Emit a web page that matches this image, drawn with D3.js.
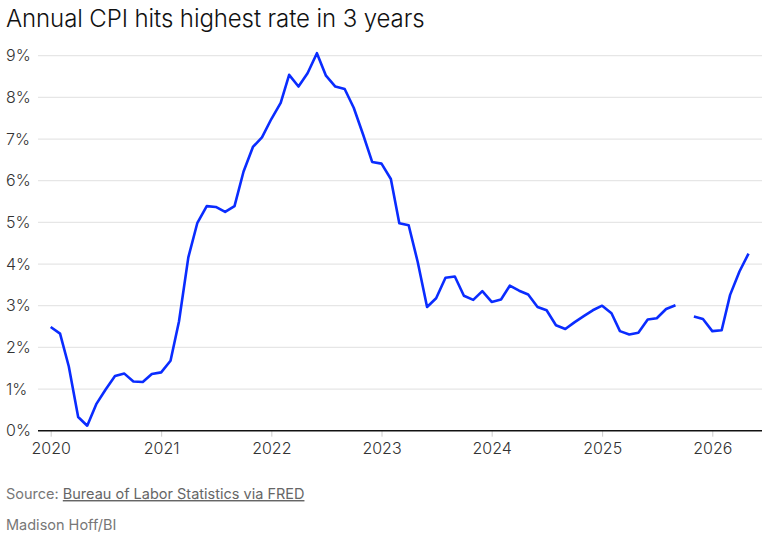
<!DOCTYPE html>
<html>
<head>
<meta charset="utf-8">
<script src="https://cdn.jsdelivr.net/npm/d3@7"></script>
<style>
  html, body { margin: 0; padding: 0; background: #fff; }
  svg { display: block; }
</style>
</head>
<body>
<svg id="chart" width="768" height="541"></svg>
<script>
const startYear = 2020;
const cpiValues = [
  2.49, 2.33, 1.54, 0.33, 0.12, 0.65, 0.99, 1.31, 1.37, 1.18, 1.17, 1.36,
  1.40, 1.68, 2.62, 4.16, 4.99, 5.39, 5.37, 5.25, 5.39, 6.22, 6.81, 7.04,
  7.48, 7.87, 8.54, 8.26, 8.58, 9.06, 8.52, 8.26, 8.20, 7.75, 7.11, 6.45,
  6.41, 6.04, 4.98, 4.93, 4.05, 2.97, 3.18, 3.67, 3.70, 3.24, 3.14, 3.35,
  3.09, 3.15, 3.48, 3.36, 3.27, 2.97, 2.89, 2.53, 2.44, 2.60, 2.75, 2.89,
  3.00, 2.82, 2.39, 2.31, 2.35, 2.67, 2.70, 2.92, 3.01, null, 2.74, 2.68,
  2.39, 2.41, 3.26, 3.82, 4.25
];
const yTicks = [0, 1, 2, 3, 4, 5, 6, 7, 8, 9];
const yearTicks = [2020, 2021, 2022, 2023, 2024, 2025, 2026];
const titleText = "Annual CPI hits highest rate in 3 years";
const sourceLabel = "Source: ";
const sourceLink = "Bureau of Labor Statistics via FRED";
const creditText = "Madison Hoff/BI";

const data = cpiValues.map((v, i) => ({ date: new Date(startYear, i, 1), value: v }));

const svg = d3.select("#chart");
const font = "Inter, 'Open Sans', sans-serif";

const x = d3.scaleTime()
  .domain([new Date(2020, 0, 1), new Date(2026, 0, 1)])
  .range([50.7, 712.3]);
const y = d3.scaleLinear().domain([0, 9]).range([430.7, 55.7]);

const gridLeft = 38, gridRight = 762;

// title
svg.append("text")
  .attr("x", 6).attr("y", 27)
  .attr("font-family", font).attr("font-size", 24)
  .attr("font-weight", 300)
  .attr("letter-spacing", -0.1)
  .attr("fill", "#111")
  .text(titleText);

// gridlines
svg.append("g").selectAll("line")
  .data(yTicks.filter(d => d !== 0))
  .join("line")
  .attr("x1", gridLeft).attr("x2", gridRight)
  .attr("y1", d => y(d)).attr("y2", d => y(d))
  .attr("stroke", "#e6e6e6").attr("stroke-width", 1.3);

// y labels
svg.append("g").selectAll("text")
  .data(yTicks)
  .join("text")
  .attr("x", 6).attr("y", d => y(d))
  .attr("dy", "0.35em")
  .attr("font-family", font).attr("font-size", 16)
  .attr("font-weight", 300)
  .attr("fill", "#333")
  .text(d => d + "%");

// x axis
const xAxis = d3.axisBottom(x)
  .tickValues(yearTicks.map(yr => new Date(yr, 0, 1)))
  .tickFormat(d3.timeFormat("%Y"))
  .tickSize(6)
  .tickPadding(6);

const gx = svg.append("g")
  .attr("transform", `translate(0,${y(0)})`)
  .call(xAxis);
gx.select(".domain").remove();
gx.selectAll(".tick line").attr("stroke", "#ccc");
gx.selectAll(".tick text")
  .attr("font-family", font).attr("font-size", 16)
  .attr("font-weight", 300)
  .attr("fill", "#333");

svg.append("line")
  .attr("x1", gridLeft).attr("x2", gridRight)
  .attr("y1", y(0)).attr("y2", y(0))
  .attr("stroke", "#111").attr("stroke-width", 1.6);

// line
const line = d3.line()
  .defined(d => d.value !== null)
  .x(d => x(d.date))
  .y(d => y(d.value));

svg.append("path")
  .datum(data)
  .attr("d", line)
  .attr("fill", "none")
  .attr("stroke", "#0a2cff")
  .attr("stroke-width", 2.6)
  .attr("stroke-linejoin", "round");

// source
const src = svg.append("text")
  .attr("x", 6).attr("y", 499)
  .attr("font-family", font).attr("font-size", 14.5)
  .attr("fill", "#777");
src.append("tspan").text(sourceLabel);
src.append("tspan").attr("text-decoration", "underline").attr("fill", "#666").text(sourceLink);

svg.append("text")
  .attr("x", 6).attr("y", 530)
  .attr("font-family", font).attr("font-size", 14.5)
  .attr("fill", "#777")
  .text(creditText);
</script>
</body>
</html>
